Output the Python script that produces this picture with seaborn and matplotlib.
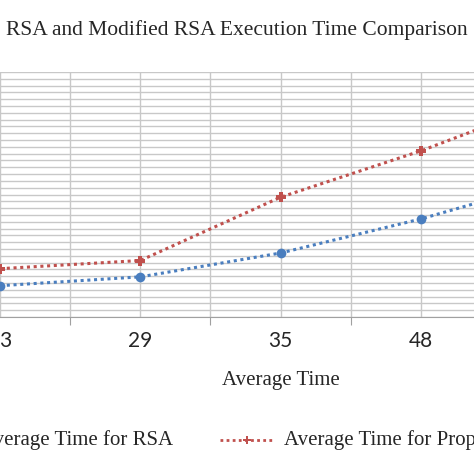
import matplotlib
matplotlib.use("Agg")
import matplotlib.pyplot as plt
import seaborn as sns
import pandas as pd
from matplotlib.lines import Line2D

categories = ["23", "29", "35", "48", "60"]
rsa = [4.6, 5.9, 9.4, 14.4, 20.3]
proposed = [7.1, 8.3, 17.6, 24.4, 32.2]
series_names = ["Average Time for RSA", "Average Time for Proposed RSA"]

sns.set_style("white")
W = H = 474
fig = plt.figure(figsize=(W/100, H/100), dpi=100)
ax = fig.add_axes([-70/W, 1-317/H, 701/W, 245/H])

x = list(range(len(categories)))
df = pd.DataFrame({"x": x * 2, "y": rsa + proposed,
                   "s": [series_names[0]]*5 + [series_names[1]]*5})
blue, red = "#4a7ebf", "#c0504d"
sns.lineplot(data=df[df.s == series_names[0]], x="x", y="y", ax=ax, color=blue,
             linestyle=(0, (1, 1.2)), linewidth=2.2, marker="o", markersize=7,
             markeredgewidth=0)
sns.lineplot(data=df[df.s == series_names[1]], x="x", y="y", ax=ax, color=red,
             linestyle=(0, (1, 1.2)), linewidth=2.2, marker="P", markersize=7,
             markeredgewidth=0)

ax.set_xlim(-0.5, 4.5)
ax.set_ylim(0, 36)
ax.set_yticks(range(0, 37))
ax.set_xticks([i + 0.5 for i in range(-1, 5)], minor=False)
ax.set_xticks(x, minor=True)
ax.grid(True, which="major", axis="both", color="#c8c8c8", linewidth=1)
ax.grid(True, which="minor", axis="x", color="#c8c8c8", linewidth=1)
ax.set_xticklabels([])
ax.set_xticklabels(categories, minor=True, fontsize=15, family="Lato")
ax.tick_params(axis="x", which="major", length=6, color="#a0a0a0", bottom=True)
ax.tick_params(axis="x", which="minor", length=0, pad=10)
ax.tick_params(axis="y", left=False, labelleft=False)
for s in ["top", "right", "left"]:
    ax.spines[s].set_visible(False)
ax.spines["bottom"].set_color("#a0a0a0")
ax.set_xlabel("")
ax.set_ylabel("")
ax.set_axisbelow(True)

fig.text(237/W, 1-30/H, "RSA and Modified RSA Execution Time Comparison",
         ha="center", va="center", fontsize=15.5, family="Liberation Serif")
fig.text(281/W, 1-380/H, "Average Time", ha="center", va="center",
         fontsize=15, family="Liberation Serif")

ly = 1-440/H
fig.add_artist(Line2D([-100/W, -45/W], [ly, ly], color=blue, linestyle=(0, (1, 1.2)),
                      linewidth=2, marker="o", markevery=[0], markersize=0))
fig.add_artist(Line2D([220/W, 275/W], [ly, ly], color=red, linestyle=(0, (1, 1.2)),
                      linewidth=2))
fig.add_artist(Line2D([247/W], [ly], color=red, marker="P", markersize=6,
                      markeredgewidth=0))
fig.text(173/W, ly, series_names[0], ha="right", va="center", fontsize=15,
         family="Liberation Serif")
fig.text(284/W, ly, series_names[1], ha="left", va="center", fontsize=15,
         family="Liberation Serif")

fig.savefig("out.png", dpi=100)
